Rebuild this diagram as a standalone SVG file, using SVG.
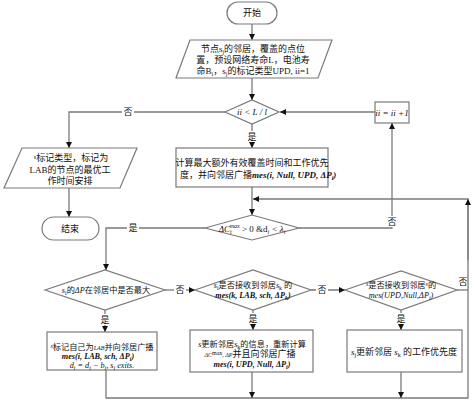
<svg xmlns="http://www.w3.org/2000/svg" width="474" height="402" viewBox="0 0 474 402">
<style>
.ln{fill:none;stroke:#7a7a7a;stroke-width:1.3}
.shp{fill:#fff;stroke:#7a7a7a;stroke-width:1.2}
.t{font-family:"Liberation Serif","Noto Sans CJK SC",serif;font-size:9px;fill:#111;text-anchor:middle}
.s{font-size:8.2px}
.m{font-family:"Liberation Serif",serif;font-style:italic}
.b{font-weight:bold}
.lb{font-family:"Liberation Serif","Noto Sans CJK SC",serif;font-size:9px;fill:#111;text-anchor:middle}
.sub{font-size:6px}
</style>
<defs>
<marker id="ar" markerWidth="6" markerHeight="6" refX="6" refY="3" orient="auto" markerUnits="userSpaceOnUse">
<path d="M0,0 L6,3 L0,6 z" fill="#111"/>
</marker>
</defs>
<rect width="474" height="402" fill="#fff"/>

<g id="connectors">
<path class="ln" d="M252,24 V40" marker-end="url(#ar)"/>
<path class="ln" d="M252,78 V100" marker-end="url(#ar)"/>
<path class="ln" d="M375,112 H280" marker-end="url(#ar)"/>
<path class="ln" d="M225,112 H69 V148" marker-end="url(#ar)"/>
<path class="ln" d="M69,188 V217" marker-end="url(#ar)"/>
<path class="ln" d="M252,124 V148" marker-end="url(#ar)"/>
<path class="ln" d="M252,187 V215" marker-end="url(#ar)"/>
<path class="ln" d="M299,228 H392 V123" marker-end="url(#ar)"/>
<path class="ln" d="M205,228 H106 V270" marker-end="url(#ar)"/>
<path class="ln" d="M165,290 H195" marker-end="url(#ar)"/>
<path class="ln" d="M311,290 H345" marker-end="url(#ar)"/>
<path class="ln" d="M457,290 H468"/>
<path class="ln" d="M105,310 V332" marker-end="url(#ar)"/>
<path class="ln" d="M253,310 V330" marker-end="url(#ar)"/>
<path class="ln" d="M401,310 V330" marker-end="url(#ar)"/>
<path class="ln" d="M106,370 V398 H468 V199 H253" marker-end="url(#ar)"/>
<path class="ln" d="M468,260 V199" marker-end="url(#ar)"/>
<path class="ln" d="M252,372 V398" marker-end="url(#ar)"/>
<path class="ln" d="M401,372 V398" marker-end="url(#ar)"/>
<rect x="122" y="106" width="12" height="11" fill="#fff"/>
<text class="lb" x="128" y="115">否</text>
<rect x="246" y="131" width="12" height="11" fill="#fff"/>
<text class="lb" x="252" y="140">是</text>
<rect x="386" y="216" width="12" height="11" fill="#fff"/>
<text class="lb" x="392" y="225">否</text>
<rect x="127" y="222" width="12" height="11" fill="#fff"/>
<text class="lb" x="133" y="231">是</text>
<rect x="174" y="284" width="12" height="11" fill="#fff"/>
<text class="lb" x="180" y="293">否</text>
<rect x="316" y="284" width="12" height="11" fill="#fff"/>
<text class="lb" x="322" y="293">否</text>
<text class="lb" x="463" y="285">否</text>
<rect x="99" y="314" width="12" height="11" fill="#fff"/>
<text class="lb" x="105" y="323">是</text>
<rect x="247" y="313" width="12" height="11" fill="#fff"/>
<text class="lb" x="253" y="322">是</text>
<rect x="395" y="313" width="12" height="11" fill="#fff"/>
<text class="lb" x="401" y="322">是</text>
</g>

<g id="start">
<rect class="shp" x="227" y="2" width="50" height="22" rx="11"/>
<text class="t" x="252" y="16">开始</text>
</g>

<g id="input">
<polygon class="shp" points="190,40 332,40 318,78 176,78"/>
<text class="t" x="253" y="52">节点s<tspan class="sub" dy="2">j</tspan><tspan dy="-2">的邻居，覆盖的点位</tspan></text>
<text class="t" x="253" y="63">置，预设网络寿命L，电池寿</text>
<text class="t" x="253" y="74">命B<tspan class="sub" dy="2">i</tspan><tspan dy="-2">，s</tspan><tspan class="sub" dy="2">j</tspan><tspan dy="-2">的标记类型UPD, ii=1</tspan></text>
</g>

<g id="loopcond">
<polygon class="shp" points="225,112 252,100 279,112 252,124"/>
<text class="t m" x="252" y="115" font-size="10">ii &lt; L / l</text>
</g>

<g id="incr">
<rect class="shp" x="375" y="102" width="34" height="21"/>
<text class="t m" x="392" y="116" font-size="9.5">ii = ii +1</text>
</g>

<g id="schedule">
<polygon class="shp" points="22,148 137,148 120,188 4,188"/>
<text class="t" x="71" y="161"><tspan class="sub" dy="-2">s</tspan><tspan dy="2">标记类型，标记为</tspan></text>
<text class="t" x="70" y="173">LAB的节点的最优工</text>
<text class="t" x="70" y="184">作时间安排</text>
</g>

<g id="end">
<rect class="shp" x="42" y="217" width="57" height="23" rx="11.5"/>
<text class="t" x="70" y="231.5">结束</text>
</g>

<g id="compute">
<rect class="shp" x="176" y="148" width="152" height="39"/>
<text class="t" x="252" y="166">计算最大额外有效覆盖时间和工作优先</text>
<text class="t" x="180" y="178" style="text-anchor:start">度，并向邻居广播<tspan class="m b">mes(i, Null, UPD, ΔP</tspan><tspan class="m b sub" dy="2">i</tspan><tspan class="m b" dy="-2">)</tspan></text>
</g>

<g id="cond2">
<polygon class="shp" points="205,228 252,215 299,228 252,240"/>
<text class="t m" x="252" y="232" font-size="9.5">ΔC<tspan class="sub" dy="2">i</tspan><tspan class="sub" dx="-2" dy="-6">max</tspan><tspan dy="4" style="font-style:normal"> &gt; 0 &amp;d</tspan><tspan class="sub" dy="2">i</tspan><tspan dy="-2"> &lt; λ</tspan><tspan class="sub" dy="2">i</tspan></text>
</g>

<g id="cond3">
<polygon class="shp" points="45,290 105,270 165,290 105,310"/>
<text class="t s" x="106" y="293"><tspan class="m">s</tspan><tspan class="sub" dy="2">i</tspan><tspan dy="-2">的</tspan><tspan class="m">ΔP</tspan>在邻居中是否最大</text>
</g>

<g id="cond4">
<polygon class="shp" points="195,290 253,270 311,290 253,310"/>
<text class="t s" x="253" y="288"><tspan class="m">s</tspan><tspan class="sub" dy="2">i</tspan><tspan dy="-2">是否接收到邻居</tspan><tspan class="m">s</tspan><tspan class="sub" dy="2">k</tspan><tspan dy="-2"> 的</tspan></text>
<text class="t s m b" x="253" y="298">mes(k, LAB, sch, ΔP<tspan class="sub" dy="2">k</tspan><tspan dy="-2">)</tspan></text>
</g>

<g id="cond5">
<polygon class="shp" points="345,290 401,271 457,290 401,310"/>
<text class="t s" x="401" y="288"><tspan class="sub m" dy="-2">s</tspan><tspan dy="2">是否接收到邻居</tspan><tspan class="sub m" dy="-2">s</tspan><tspan dy="2">的</tspan></text>
<text class="t s m" x="401" y="298">mes(UPD,Null,ΔP<tspan class="sub" dy="2">i</tspan><tspan dy="-2">)</tspan></text>
</g>

<g id="markLAB">
<rect class="shp" x="47" y="332" width="110" height="38"/>
<text class="t s" x="102" y="350"><tspan class="sub m" dy="-2">s</tspan><tspan dy="2">标记自己为</tspan><tspan class="sub m">LAB</tspan>并向邻居广播</text>
<text class="t s m b" x="98" y="359">mes(i, LAB, sch, ΔP<tspan class="sub" dy="2">i</tspan><tspan dy="-2">)</tspan></text>
<text class="t s m" x="102" y="368">d<tspan class="sub" dy="2">i</tspan><tspan dy="-2"> = d</tspan><tspan class="sub" dy="2">i</tspan><tspan dy="-2"> − b</tspan><tspan class="sub" dy="2">i</tspan><tspan dy="-2">, s</tspan><tspan class="sub" dy="2">i</tspan><tspan dy="-2"> exits.</tspan></text>
</g>

<g id="update">
<rect class="shp" x="190" y="330" width="123" height="42"/>
<text class="t s" x="252" y="347"><tspan class="m">s</tspan>更新邻居<tspan class="m">s</tspan><tspan class="sub" dy="2">k</tspan><tspan dy="-2">的信息，重新计算</tspan></text>
<text class="t" x="250" y="357" font-size="8"><tspan class="m sub">ΔC</tspan><tspan class="sub" dy="-2">max</tspan><tspan class="m sub" dy="2">, ΔP</tspan><tspan dy="0">并且向邻居广播</tspan></text>
<text class="t s m b" x="252" y="367">mes(i, UPD, Null, ΔP<tspan class="sub" dy="2">i</tspan><tspan dy="-2">)</tspan></text>
</g>

<g id="priority">
<rect class="shp" x="347" y="330" width="115" height="42"/>
<text class="t" x="404" y="355"><tspan class="m">s</tspan><tspan class="sub" dy="2">j</tspan><tspan dy="-2">更新邻居 </tspan><tspan class="m">s</tspan><tspan class="sub" dy="2">k</tspan><tspan dy="-2"> 的工作优先度</tspan></text>
</g>
</svg>
